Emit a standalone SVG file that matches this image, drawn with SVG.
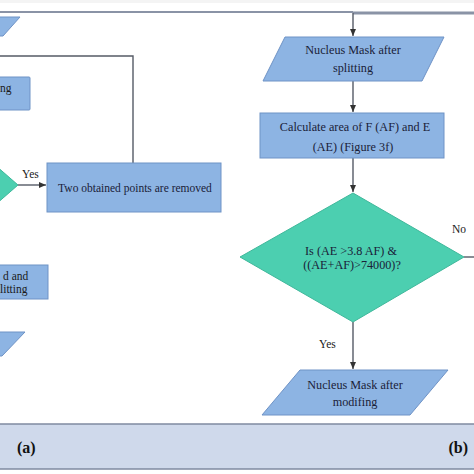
<svg xmlns="http://www.w3.org/2000/svg" width="474" height="474" viewBox="0 0 474 474">
<defs>
<style>
.blue{fill:#8db4e3;stroke:#6f93c6;stroke-width:1}
.green{fill:#4ccfb0;stroke:#3fb89b;stroke-width:1}
.t{font-family:"Liberation Serif","Times New Roman",serif;font-size:12.2px;fill:#1a2138;text-anchor:middle}
.lbl{font-family:"Liberation Serif","Times New Roman",serif;font-size:11.5px;fill:#1a1a1a}
.cap{font-family:"Liberation Serif","Times New Roman",serif;font-size:16px;font-weight:bold;fill:#111}
.c{fill:none;stroke:#555b66;stroke-width:1.4}
</style>
<marker id="ah" markerWidth="8" markerHeight="8" refX="7" refY="4" orient="auto" markerUnits="userSpaceOnUse">
<path d="M0,1 L7,4 L0,7 Z" fill="#333"/>
</marker>
</defs>
<rect width="474" height="474" fill="#ffffff"/>
<rect x="0" y="0" width="474" height="3" fill="#f4f4f4"/>

<g id="connectors">
<line x1="0" y1="12" x2="353" y2="12" stroke="#8a93a6" stroke-width="2"/>
<line x1="353" y1="13" x2="474" y2="13" stroke="#8a93a6" stroke-width="3"/>
<line class="c" x1="353" y1="13" x2="353" y2="36" marker-end="url(#ah)"/>
<line class="c" x1="353" y1="81" x2="353" y2="112" marker-end="url(#ah)"/>
<line class="c" x1="353" y1="158" x2="353" y2="192" marker-end="url(#ah)"/>
<line class="c" x1="353" y1="322" x2="353" y2="369" marker-end="url(#ah)"/>
<line class="c" x1="464" y1="257" x2="474" y2="257"/>
<polyline class="c" points="133,163 133,56 0,56"/>
<line class="c" x1="18" y1="185" x2="46" y2="185" marker-end="url(#ah)"/>
<text class="lbl" x="22" y="178">Yes</text>
<text class="lbl" x="319" y="348">Yes</text>
<text class="lbl" x="452" y="233">No</text>
</g>

<g id="n-left-top-para"><polygon class="blue" points="-5,17 20,17 3,36 -5,36"/></g>
<g id="n-left-rect1"><rect class="blue" x="-5" y="77" width="35" height="33" rx="1"/><text class="lbl" x="0" y="92" fill="#1a2138">ng</text></g>
<g id="n-left-diamond"><polygon class="green" points="-5,165 18,185 -5,205"/></g>
<g id="n-remove"><rect class="blue" x="47" y="163" width="174" height="49"/><text class="t" x="135" y="192" style="font-size:11.5px">Two obtained points are removed</text></g>
<g id="n-left-rect2"><rect class="blue" x="-5" y="265" width="53" height="34"/><text class="lbl" x="3" y="280" fill="#1a2138">d and</text><text class="lbl" x="0" y="293" fill="#1a2138">litting</text></g>
<g id="n-left-bottom-para"><polygon class="blue" points="-5,332 25,332 2,356 -5,356"/></g>

<g id="n-mask-split"><polygon class="blue" points="285,37 444,37 422,81 263,81"/><text class="t" x="353" y="54">Nucleus Mask after</text><text class="t" x="353" y="72">splitting</text></g>
<g id="n-calc"><rect class="blue" x="260" y="113" width="184" height="45"/><text class="t" x="355" y="131">Calculate area of F (AF) and E</text><text class="t" x="353" y="151">(AE) (Figure 3f)</text></g>
<g id="n-decision"><polygon class="green" points="353,193 464,257 353,322 240,257"/><text class="t" x="351" y="255">Is (AE &gt;3.8 AF) &amp;</text><text class="t" x="352" y="269">((AE+AF)&gt;74000)?</text></g>
<g id="n-mask-mod"><polygon class="blue" points="300,370 448,370 410,415 262,415"/><text class="t" x="355" y="389">Nucleus Mask after</text><text class="t" x="355" y="406">modifing</text></g>

<g id="caption-bar">
<rect x="0" y="424" width="474" height="45" fill="#cfd9eb"/>
<line x1="0" y1="424" x2="474" y2="424" stroke="#7f8aa0" stroke-width="1.5"/>
<line x1="0" y1="469" x2="474" y2="469" stroke="#7f8aa0" stroke-width="1.5"/>
<text class="cap" x="17" y="453">(a)</text>
<text class="cap" x="468" y="453" text-anchor="end">(b)</text>
</g>
</svg>
